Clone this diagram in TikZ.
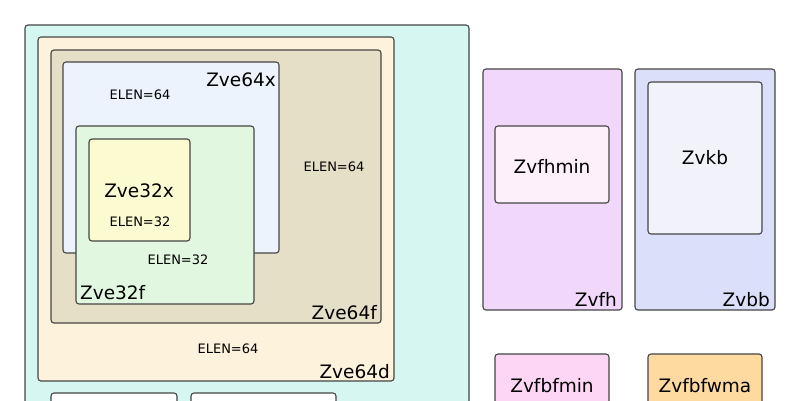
\documentclass[tikz,border=0pt]{standalone}
\usepackage{fontspec}
\setmainfont{DejaVu Sans}
\usetikzlibrary{calc}
\definecolor{edge}{HTML}{454545}
\definecolor{cOuter}{HTML}{D6F7F1}
\definecolor{cZvesd}{HTML}{FDF2DC}
\definecolor{cZvesf}{HTML}{E6DFC7}
\definecolor{cZvesx}{HTML}{ECF3FD}
\definecolor{cZvetf}{HTML}{E2F7E0}
\definecolor{cZvetx}{HTML}{FCFAD0}
\definecolor{cZvfh}{HTML}{F1D8FA}
\definecolor{cZvfhmin}{HTML}{FDF0FA}
\definecolor{cZvbb}{HTML}{DCDFFA}
\definecolor{cZvkb}{HTML}{F2F2FB}
\definecolor{cZvfbfmin}{HTML}{FDD6F6}
\definecolor{cZvfbfwma}{HTML}{FED9A0}
\tikzset{
  box/.style={draw=edge, line width=1.1pt, rounded corners=3pt, inner sep=0pt, outer sep=0pt, anchor=north west},
  big/.style={font=\fontsize{18.5}{21}\selectfont, text=black, inner sep=0pt},
  small/.style={font=\fontsize{13}{15}\selectfont, text=black, inner sep=0pt},
}
\newcommand{\mkbox}[6]{% name, color, x1, y1, x2, y2
  \node[box, fill=#2, minimum width={(#5-#3)*1pt}, minimum height={(#6-#4)*1pt}] (#1) at (#3,#4) {};}
\begin{document}
\begin{tikzpicture}[x=1pt,y=-1pt]
\useasboundingbox (0,0) rectangle (800,400);
\clip (0,0) rectangle (800,400);
\fill[white] (0,0) rectangle (800,400);
% left group
\mkbox{outer}{cOuter}{25}{25}{469}{440}
\mkbox{zvesd}{cZvesd}{38}{37}{394}{381}
\mkbox{zvesf}{cZvesf}{51}{50}{381}{323}
\mkbox{zvesx}{cZvesx}{63}{62}{279}{253}
\mkbox{zvetf}{cZvetf}{76}{126}{254}{304}
\mkbox{zvetx}{cZvetx}{89}{139}{190}{241}
\mkbox{bl}{white}{51}{393}{177}{440}
\mkbox{br}{white}{191}{393}{336}{440}
% right group
\mkbox{zvfh}{cZvfh}{483}{69}{622}{310}
\mkbox{zvfhmin}{cZvfhmin}{495}{126}{609}{203}
\mkbox{zvbb}{cZvbb}{635}{69}{775}{310}
\mkbox{zvkb}{cZvkb}{648}{82}{762}{234}
\mkbox{zvfbfmin}{cZvfbfmin}{495}{354}{609}{440}
\mkbox{zvfbfwma}{cZvfbfwma}{648}{354}{762}{440}
% labels
\node[big, anchor=base east] (lzvesd) at ($(zvesd.south east)+(-4,-3)$) {Zve64d};
\node[small] (ezvesd) at (228,349) {ELEN=64};
\node[big, anchor=base east] (lzvesf) at ($(zvesf.south east)+(-4,-4)$) {Zve64f};
\node[small] (ezvesf) at (334,167) {ELEN=64};
\node[big, anchor=base east] (lzvesx) at ($(zvesx.north east)+(-3,24)$) {Zve64x};
\node[small] (ezvesx) at (140,95) {ELEN=64};
\node[big, anchor=base west] (lzvetf) at ($(zvetf.south west)+(4,-5)$) {Zve32f};
\node[small] (ezvetf) at (178,260) {ELEN=32};
\node[big] (lzvetx) at (139,191) {Zve32x};
\node[small] (ezvetx) at (140,222) {ELEN=32};
\node[big, anchor=base east] (lzvfh) at ($(zvfh.south east)+(-5,-4)$) {Zvfh};
\node[big, anchor=base east] (lzvbb) at ($(zvbb.south east)+(-5,-4)$) {Zvbb};
\node[big] (lzvfhmin) at (552,166) {Zvfhmin};
\node[big] (lzvkb) at (705,158) {Zvkb};
\node[big] (lzvfbfmin) at (552,386) {Zvfbfmin};
\node[big] (lzvfbfwma) at (705,386) {Zvfbfwma};
\end{tikzpicture}
\end{document}
